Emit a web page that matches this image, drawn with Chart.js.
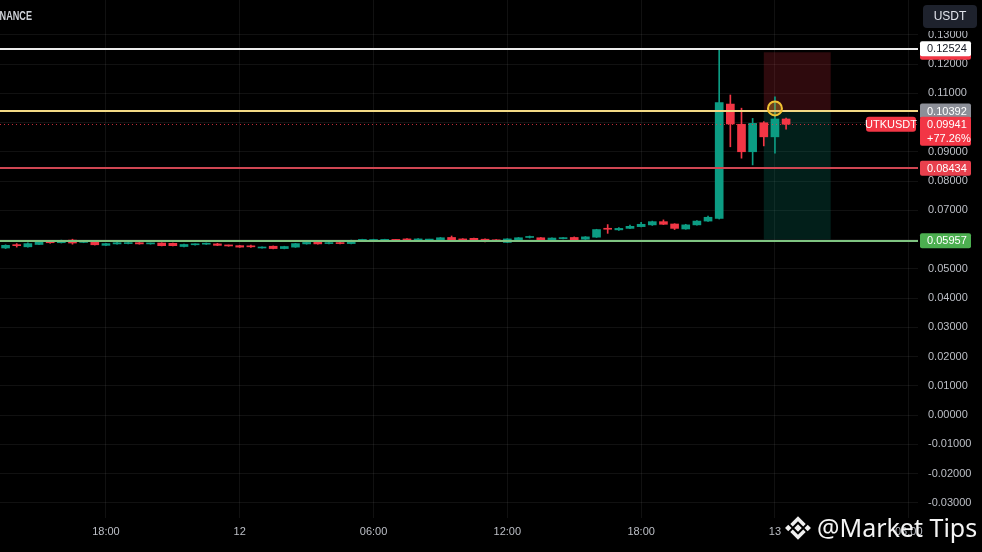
<!DOCTYPE html>
<html>
<head>
<meta charset="utf-8">
<script src="https://cdn.jsdelivr.net/npm/chart.js@4.4.1/dist/chart.umd.min.js"></script>
<style>
    html, body { margin: 0; padding: 0; background: #000; }
    #wrap { width: 982px; height: 552px; }
</style>
</head>
<body>
<div id="wrap"><canvas id="chart" width="982" height="552"></canvas></div>
<script>
// ==================== DATA (30m candles, UTKUSDT) ====================
const opens = [
    0.0571, 0.0582, 0.0575, 0.0583, 0.0594, 0.0589, 0.0598, 0.0590, 0.0593, 0.0580,
    0.0585, 0.0586, 0.0589, 0.0585, 0.0588, 0.0587, 0.0576, 0.0582, 0.0584, 0.0585,
    0.0579, 0.0579, 0.0578, 0.0571, 0.0577, 0.0569, 0.0574, 0.0585, 0.0594, 0.0586,
    0.0589, 0.0586, 0.0597, 0.0596, 0.0597, 0.0600, 0.0602, 0.0594, 0.0598, 0.0597,
    0.0607, 0.0602, 0.0604, 0.0601, 0.0599, 0.0590, 0.0597, 0.0607, 0.0606, 0.0597,
    0.0603, 0.0607, 0.0601, 0.0608, 0.0637, 0.0633, 0.0638, 0.0644, 0.0650, 0.0661,
    0.0653, 0.0636, 0.0650, 0.0663, 0.0672, 0.1063, 0.0994, 0.0900, 0.0999, 0.0951,
    0.1012
];
const highs = [
    0.0582, 0.0586, 0.0589, 0.0596, 0.0597, 0.0598, 0.0601, 0.0596, 0.0596, 0.0587,
    0.0590, 0.0590, 0.0590, 0.0588, 0.0589, 0.0588, 0.0584, 0.0585, 0.0588, 0.0587,
    0.0581, 0.0580, 0.0581, 0.0575, 0.0578, 0.0577, 0.0587, 0.0592, 0.0595, 0.0590,
    0.0590, 0.0598, 0.0601, 0.0601, 0.0601, 0.0601, 0.0603, 0.0603, 0.0601, 0.0607,
    0.0612, 0.0603, 0.0605, 0.0602, 0.0600, 0.0603, 0.0607, 0.0612, 0.0607, 0.0606,
    0.0607, 0.0609, 0.0610, 0.0635, 0.0651, 0.0641, 0.0649, 0.0659, 0.0663, 0.0667,
    0.0654, 0.0652, 0.0665, 0.0680, 0.1250, 0.1094, 0.1049, 0.1014, 0.1003, 0.1088,
    0.1015
];
const lows = [
    0.0569, 0.0574, 0.0574, 0.0582, 0.0587, 0.0588, 0.0584, 0.0589, 0.0581, 0.0579,
    0.0584, 0.0585, 0.0584, 0.0584, 0.0578, 0.0578, 0.0575, 0.0581, 0.0583, 0.0579,
    0.0577, 0.0573, 0.0573, 0.0570, 0.0568, 0.0568, 0.0573, 0.0584, 0.0584, 0.0585,
    0.0585, 0.0585, 0.0596, 0.0595, 0.0596, 0.0596, 0.0593, 0.0593, 0.0597, 0.0596,
    0.0596, 0.0593, 0.0597, 0.0592, 0.0593, 0.0589, 0.0596, 0.0605, 0.0594, 0.0596,
    0.0602, 0.0597, 0.0600, 0.0607, 0.0621, 0.0631, 0.0637, 0.0643, 0.0648, 0.0651,
    0.0634, 0.0635, 0.0649, 0.0662, 0.0670, 0.0917, 0.0878, 0.0855, 0.0920, 0.0895,
    0.0977
];
const closes = [
    0.0580, 0.0579, 0.0586, 0.0594, 0.0589, 0.0596, 0.0588, 0.0594, 0.0582, 0.0586,
    0.0589, 0.0589, 0.0585, 0.0587, 0.0579, 0.0579, 0.0583, 0.0584, 0.0587, 0.0580,
    0.0578, 0.0574, 0.0575, 0.0574, 0.0569, 0.0576, 0.0586, 0.0590, 0.0585, 0.0589,
    0.0586, 0.0597, 0.0599, 0.0600, 0.0600, 0.0597, 0.0594, 0.0602, 0.0600, 0.0606,
    0.0597, 0.0594, 0.0598, 0.0593, 0.0594, 0.0602, 0.0606, 0.0609, 0.0595, 0.0605,
    0.0606, 0.0598, 0.0609, 0.0634, 0.0635, 0.0638, 0.0645, 0.0652, 0.0661, 0.0652,
    0.0638, 0.0650, 0.0663, 0.0676, 0.1068, 0.0995, 0.0900, 0.0997, 0.0951, 0.1012,
    0.0994
];

// time axis: bar index of each labelled tick
const xTickPositions = [9, 21, 33, 45, 57, 69, 81];
const xTickLabels = ['18:00', '12', '06:00', '12:00', '18:00', '13', '06:00'];
const yTickValues = [-0.03, -0.02, -0.01, 0, 0.01, 0.02, 0.03, 0.04, 0.05, 0.06, 0.07, 0.08, 0.09, 0.10, 0.11, 0.12, 0.13];

// horizontal levels drawn on the chart
const levelPrices = [0.12524, 0.10392, 0.08434, 0.05957];

// short position tool
const positionStartBar = 68;
const positionEndBar = 74;
const positionEntry = 0.10392;
const positionStop = 0.1240;
const positionTarget = 0.0600;

// marker circle
const markerBar = 69;
const markerPrice = 0.1048;

const symbolName = 'UTKUSDT';
const lastPrice = 0.09941;
const changeText = '+77.26%';

// ==================== STYLES ====================
const UP = '#0c9c83';
const DOWN = '#f23645';
const GRID = 'rgba(255,255,255,0.065)';
const TICK_TEXT = '#bcbfc6';
const levelColors = ['#ececec', '#f2d984', '#cf4652', '#7fc481'];
const FONT = '"Liberation Sans", Arial, sans-serif';

const candleColors = opens.map((o, i) => closes[i] >= o ? UP : DOWN);
const bodyData = opens.map((o, i) => ({ x: i, y: [o, closes[i]] }));
const wickData = opens.map((o, i) => ({ x: i, y: [lows[i], highs[i]] }));

// ==================== DRAWING HELPERS ====================
const roundRect = (ctx, x, y, w, h, r) => {
    ctx.beginPath();
    ctx.moveTo(x + r, y);
    ctx.lineTo(x + w - r, y);
    ctx.quadraticCurveTo(x + w, y, x + w, y + r);
    ctx.lineTo(x + w, y + h - r);
    ctx.quadraticCurveTo(x + w, y + h, x + w - r, y + h);
    ctx.lineTo(x + r, y + h);
    ctx.quadraticCurveTo(x, y + h, x, y + h - r);
    ctx.lineTo(x, y + r);
    ctx.quadraticCurveTo(x, y, x + r, y);
    ctx.closePath();
};

const priceLabel = (ctx, yPix, lines, bg, fg) => {
    const h = 15 * lines.length - (lines.length - 1) * 1;
    roundRect(ctx, 920, yPix - 7.5, 51, h, 2);
    ctx.fillStyle = bg;
    ctx.fill();
    ctx.fillStyle = fg;
    ctx.font = '11px ' + FONT;
    ctx.textAlign = 'left';
    ctx.textBaseline = 'middle';
    lines.forEach((t, k) => ctx.fillText(t, 927, yPix + 0.5 + k * 14));
};

const drawBinanceLogo = (ctx, cx, cy, s) => {
    ctx.save();
    ctx.fillStyle = '#f0f0f0';
    ctx.strokeStyle = '#f0f0f0';
    const diamond = (x, y, r) => {
        ctx.beginPath();
        ctx.moveTo(x, y - r);
        ctx.lineTo(x + r, y);
        ctx.lineTo(x, y + r);
        ctx.lineTo(x - r, y);
        ctx.closePath();
        ctx.fill();
    };
    diamond(cx, cy, s * 0.14);
    diamond(cx - s * 0.36, cy, s * 0.12);
    diamond(cx + s * 0.36, cy, s * 0.12);
    ctx.lineWidth = s * 0.13;
    ctx.lineJoin = 'miter';
    [-1, 1].forEach(d => {
        ctx.beginPath();
        ctx.moveTo(cx - s * 0.24, cy + d * s * 0.1);
        ctx.lineTo(cx, cy + d * s * 0.34);
        ctx.lineTo(cx + s * 0.24, cy + d * s * 0.1);
        ctx.stroke();
    });
    ctx.restore();
};

// ==================== OVERLAY PLUGIN ====================
const overlayPlugin = {
    id: 'overlay',
    beforeDatasetsDraw(chart) {
        const { ctx, chartArea, scales: { x, y } } = chart;
        ctx.save();
        ctx.beginPath();
        ctx.rect(chartArea.left, chartArea.top, chartArea.width, chartArea.height);
        ctx.clip();
        const x0 = x.getPixelForValue(positionStartBar);
        const x1 = x.getPixelForValue(positionEndBar);
        const yStop = y.getPixelForValue(positionStop);
        const yEntry = y.getPixelForValue(positionEntry);
        const yTarget = y.getPixelForValue(positionTarget);
        ctx.fillStyle = 'rgba(242,54,69,0.19)';
        ctx.fillRect(x0, yStop, x1 - x0, yEntry - yStop);
        ctx.fillStyle = 'rgba(8,153,129,0.2)';
        ctx.fillRect(x0, yEntry, x1 - x0, yTarget - yEntry);
        ctx.restore();
    },
    afterDatasetsDraw(chart) {
        const { ctx, chartArea, scales: { x, y } } = chart;
        ctx.save();
        // dotted last price line
        const yLast = Math.round(y.getPixelForValue(lastPrice)) + 0.5;
        ctx.strokeStyle = 'rgba(242,54,69,0.8)';
        ctx.lineWidth = 1;
        ctx.setLineDash([1, 3]);
        ctx.beginPath();
        ctx.moveTo(chartArea.left, yLast);
        ctx.lineTo(chartArea.right, yLast);
        ctx.stroke();
        ctx.setLineDash([]);
        // horizontal levels
        levelPrices.forEach((p, i) => {
            const yy = Math.round(y.getPixelForValue(p));
            ctx.strokeStyle = levelColors[i];
            ctx.lineWidth = 2;
            ctx.beginPath();
            ctx.moveTo(chartArea.left, yy);
            ctx.lineTo(chartArea.right, yy);
            ctx.stroke();
        });
        // marker circle
        ctx.beginPath();
        ctx.arc(x.getPixelForValue(markerBar), y.getPixelForValue(markerPrice), 7, 0, Math.PI * 2);
        ctx.fillStyle = 'rgba(230,160,50,0.35)';
        ctx.fill();
        ctx.strokeStyle = '#f1c232';
        ctx.lineWidth = 2;
        ctx.stroke();
        ctx.restore();
    },
    afterDraw(chart) {
        const { ctx, scales: { y } } = chart;
        ctx.save();
        // price axis labels
        priceLabel(ctx, y.getPixelForValue(positionStop), [''], '#f23645', '#fff');
        priceLabel(ctx, y.getPixelForValue(levelPrices[0]), [levelPrices[0].toFixed(5)], '#ffffff', '#131722');
        priceLabel(ctx, y.getPixelForValue(levelPrices[1]), [levelPrices[1].toFixed(5)], '#8c8f98', '#ffffff');
        priceLabel(ctx, y.getPixelForValue(lastPrice), [lastPrice.toFixed(5), changeText], '#f23645', '#ffffff');
        priceLabel(ctx, y.getPixelForValue(levelPrices[2]), [levelPrices[2].toFixed(5)], '#e8404d', '#ffffff');
        priceLabel(ctx, y.getPixelForValue(levelPrices[3]), [levelPrices[3].toFixed(5)], '#4caf50', '#ffffff');

        // symbol tag
        const yLast = y.getPixelForValue(lastPrice);
        roundRect(ctx, 866, yLast - 7.5, 50, 15, 3);
        ctx.fillStyle = '#f23645';
        ctx.fill();
        ctx.fillStyle = '#ffffff';
        ctx.font = '11px ' + FONT;
        ctx.textAlign = 'center';
        ctx.textBaseline = 'middle';
        ctx.fillText(symbolName, 891, yLast + 0.5);

        // currency box
        ctx.fillStyle = '#000';
        ctx.fillRect(920, 0, 62, 31);
        roundRect(ctx, 923, 5, 54, 23, 4);
        ctx.fillStyle = '#1e222d';
        ctx.fill();
        ctx.fillStyle = '#e0e3eb';
        ctx.font = '12px ' + FONT;
        ctx.fillText('USDT', 950, 17);

        // exchange title (cut at the left edge)
        ctx.save();
        ctx.translate(32, 17);
        ctx.scale(0.76, 1);
        ctx.fillStyle = '#cfd2d8';
        ctx.font = 'bold 12px ' + FONT;
        ctx.textAlign = 'right';
        ctx.fillText('BINANCE', 0, 0);
        ctx.restore();

        // watermark
        drawBinanceLogo(ctx, 798, 528, 27);
        ctx.fillStyle = '#f4f4f4';
        ctx.font = '25px "Noto Sans", sans-serif';
        ctx.textAlign = 'left';
        ctx.textBaseline = 'alphabetic';
        ctx.fillText('@Market Tips', 817, 537);
        ctx.restore();
    }
};

// ==================== CHART ====================
const ctx = document.getElementById('chart').getContext('2d');
new Chart(ctx, {
    type: 'bar',
    data: {
        datasets: [
            {
                data: wickData,
                backgroundColor: candleColors,
                barThickness: 1,
                grouped: false,
                order: 2
            },
            {
                data: bodyData,
                backgroundColor: candleColors,
                barThickness: 8,
                minBarLength: 1,
                grouped: false,
                order: 1
            }
        ]
    },
    options: {
        responsive: false,
        animation: false,
        layout: { padding: 0 },
        plugins: {
            legend: { display: false },
            tooltip: { enabled: false }
        },
        scales: {
            x: {
                type: 'linear',
                min: -0.5,
                max: 81.83,
                offset: false,
                afterBuildTicks: (scale) => {
                    scale.ticks = xTickPositions.map(v => ({ value: v }));
                },
                afterFit: (scale) => {
                    scale.height = 34;
                    scale.paddingLeft = 0;
                    scale.paddingRight = 0;
                },
                grid: { color: GRID, drawTicks: false, offset: false },
                border: { display: false },
                ticks: {
                    color: TICK_TEXT,
                    font: { family: FONT, size: 11 },
                    padding: 7,
                    maxRotation: 0,
                    autoSkip: false,
                    callback: (v) => xTickLabels[xTickPositions.indexOf(v)]
                }
            },
            y: {
                position: 'right',
                min: -0.03521,
                max: 0.14188,
                afterBuildTicks: (scale) => {
                    scale.ticks = yTickValues.map(v => ({ value: v }));
                },
                afterFit: (scale) => {
                    scale.width = 64;
                    scale.paddingTop = 0;
                    scale.paddingBottom = 0;
                },
                grid: { color: GRID, drawTicks: false },
                border: { display: false },
                ticks: {
                    color: TICK_TEXT,
                    font: { family: FONT, size: 11 },
                    padding: 10,
                    autoSkip: false,
                    callback: (v) => v.toFixed(5)
                }
            }
        }
    },
    plugins: [overlayPlugin]
});
</script>
</body>
</html>
